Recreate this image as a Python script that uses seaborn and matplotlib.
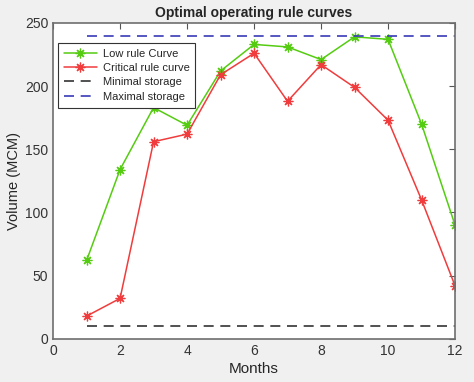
import matplotlib
matplotlib.use("Agg")
import matplotlib.pyplot as plt
import seaborn as sns
import pandas as pd

months = list(range(1, 13))
low_rule = [62, 134, 183, 169, 212, 233, 231, 221, 239, 237, 170, 90]
critical_rule = [18, 32, 156, 162, 209, 226, 188, 217, 199, 173, 110, 42]
min_storage = [10] * 12
max_storage = [240] * 12

sns.set_style("white")
plt.rcParams['font.family'] = ['Liberation Sans', 'DejaVu Sans']

fig = plt.figure(figsize=(4.74, 3.82), dpi=100, facecolor="#f0f0f0")
ax = fig.add_axes([0.112, 0.113, 0.848, 0.827])
ax.set_facecolor("white")

df = pd.DataFrame({"Months": months, "low": low_rule, "crit": critical_rule,
                   "minv": min_storage, "maxv": max_storage})

star = (8, 2, 0)
sns.lineplot(data=df, x="Months", y="low", ax=ax, color="#55cc11", marker=star,
             markersize=7, markeredgecolor="#55cc11", markeredgewidth=0.9,
             linewidth=1.1, label="Low rule Curve")
sns.lineplot(data=df, x="Months", y="crit", ax=ax, color="#f03c3c", marker=star,
             markersize=7, markeredgecolor="#f03c3c", markeredgewidth=0.9,
             linewidth=1.1, label="Critical rule curve")
sns.lineplot(data=df, x="Months", y="minv", ax=ax, color="#333333", linewidth=1.2,
             label="Minimal storage").lines[-1].set_dashes([6, 4])
sns.lineplot(data=df, x="Months", y="maxv", ax=ax, color="#3a3ab8", linewidth=1.2,
             label="Maximal storage").lines[-1].set_dashes([6, 4])

ax.set_xlim(0, 12)
ax.set_ylim(0, 250)
ax.set_xticks(range(0, 13, 2))
ax.set_yticks(range(0, 251, 50))
ax.set_xlabel("Months", fontsize=11, color="#262626", labelpad=3)
ax.set_ylabel("Volume (MCM)", fontsize=10.5, color="#262626", labelpad=3)
ax.set_title("Optimal operating rule curves", fontsize=10, fontweight="bold", pad=4)
ax.tick_params(direction="in", length=4, top=True, right=True, labelsize=10,
               labelcolor="#333333", color="#555555", width=0.8)
for s in ax.spines.values():
    s.set_visible(True)
    s.set_color("#6e6e6e")
    s.set_linewidth(1.2)

leg = ax.legend(loc="upper left", bbox_to_anchor=(0.011, 0.937), borderaxespad=0,
                fontsize=8, frameon=True, fancybox=False, framealpha=1,
                edgecolor="#333333", handlelength=3.0, handletextpad=0.5,
                borderpad=0.55, labelspacing=0.38)
leg.get_frame().set_linewidth(0.8)

fig.savefig("out.png", dpi=100, facecolor=fig.get_facecolor())
